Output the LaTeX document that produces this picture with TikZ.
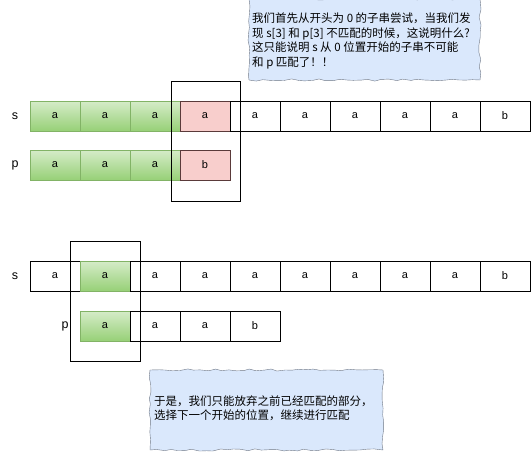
\documentclass[tikz,border=0pt]{standalone}
\usepackage{fontspec}
\setmainfont{Liberation Sans}
\newfontfamily\cjk{Noto Sans CJK SC}
\usetikzlibrary{decorations.pathmorphing}
\definecolor{notefill}{HTML}{DAE8FC}
\definecolor{noteline}{HTML}{6F7785}
\definecolor{okfill}{HTML}{97D077}
\definecolor{okline}{HTML}{82B366}
\definecolor{badfill}{HTML}{F8CECC}
\definecolor{badline}{HTML}{5A3A3A}
\tikzset{
  cell/.style={draw,minimum width=50pt,minimum height=30pt,inner sep=0pt,
    font=\fontsize{11}{13}\selectfont},
  okcell/.style={cell,draw=okline,top color=okfill!40!white,bottom color=okfill},
  badcell/.style={cell,draw=badline,fill=badfill},
  rowlabel/.style={font=\fontsize{12.5}{14}\selectfont},
  note/.style={draw=noteline,fill=notefill,
    decorate,decoration={random steps,segment length=7pt,amplitude=1.1pt}},
  notetext/.style={align=left,inner sep=0pt,
    font=\cjk\fontsize{11.5}{14.5}\selectfont}
}
\begin{document}
\begin{tikzpicture}[x=1pt,y=-1pt]
\useasboundingbox (0,0) rectangle (531,453);
% first try: start at 0
\node[rowlabel] (s) at (15,116) {s};
\node[rowlabel] (p) at (15,165) {p};
\foreach \i/\c/\st in {1/a/okcell,2/a/okcell,3/a/okcell,4/a/badcell,5/a/cell,
    6/a/cell,7/a/cell,8/a/cell,9/a/cell,10/b/cell}
  \node[\st] (s\i) at (5+50*\i,116) {\c};
\foreach \i/\c/\st in {1/a/okcell,2/a/okcell,3/a/okcell,4/b/badcell}
  \node[\st] (p\i) at (5+50*\i,165) {\c};
\draw (171,81) rectangle (240,201);
% second try: start at 1
\node[rowlabel] (t) at (15,276) {s};
\node[rowlabel] (q) at (65,326) {p};
\foreach \i/\c/\st in {1/a/cell,2/a/okcell,3/a/cell,4/a/cell,5/a/cell,
    6/a/cell,7/a/cell,8/a/cell,9/a/cell,10/b/cell}
  \node[\st] (t\i) at (5+50*\i,276) {\c};
\foreach \i/\c/\st in {1/a/okcell,2/a/cell,3/a/cell,4/b/cell}
  \node[\st] (q\i) at (55+50*\i,326) {\c};
\draw (70,241) rectangle (140,361);
% notes
\draw[note] (249,-1) rectangle (480,80);
\node[notetext,anchor=west] (n1) at (252,41)
  {我们首先从开头为 0 的子串尝试，当我们发\\
   现 s[3] 和 p[3] 不匹配的时候，这说明什么?\\
   这只能说明 s 从 0 位置开始的子串不可能\\
   和 p 匹配了！！};
\draw[note] (150,370) rectangle (383,450);
\node[notetext,anchor=west] (n2) at (154,408)
  {于是，我们只能放弃之前已经匹配的部分，\\
   选择下一个开始的位置，继续进行匹配};
\end{tikzpicture}
\end{document}
